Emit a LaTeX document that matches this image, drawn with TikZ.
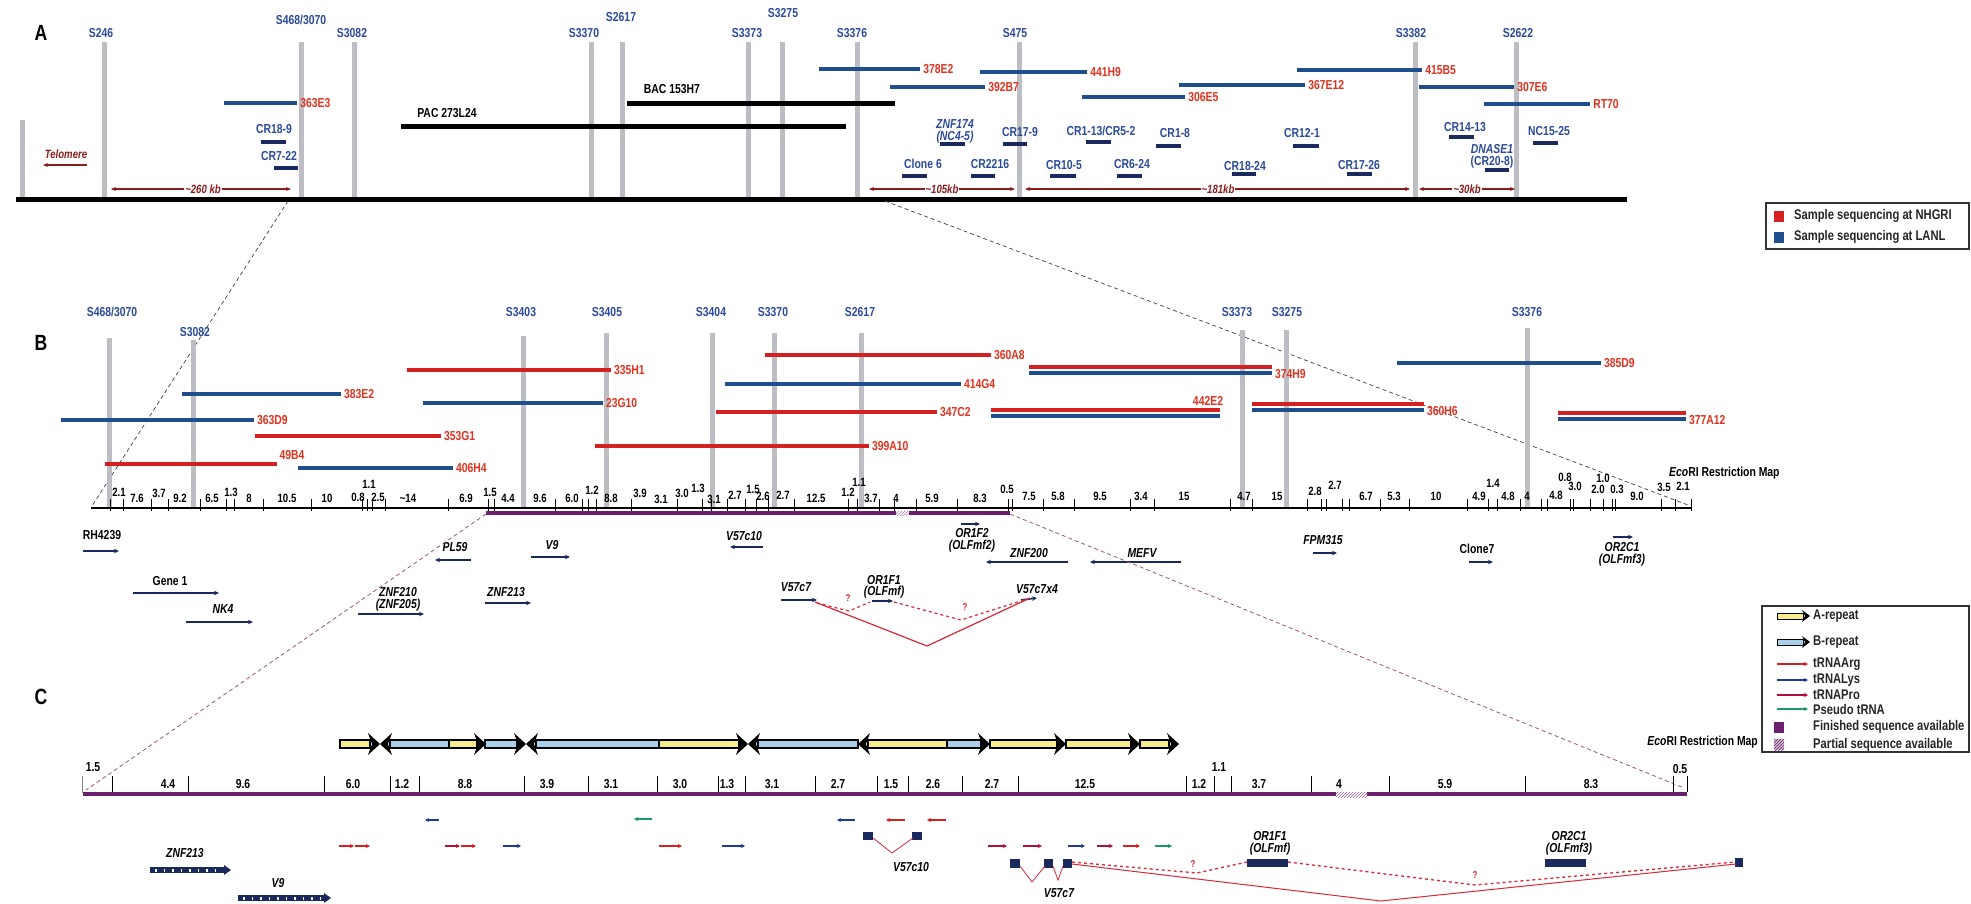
\documentclass[tikz,border=0pt]{standalone}
\usepackage{fontspec}
\setmainfont{Liberation Sans}
\newfontfamily\nar[FakeStretch=0.8]{Liberation Sans}
\usetikzlibrary{arrows.meta,patterns}
\definecolor{sblue}{HTML}{2B4A9B}
\definecolor{cred}{HTML}{E0321E}
\definecolor{bblue}{HTML}{1F4E8C}
\definecolor{bred}{HTML}{D42020}
\definecolor{navy}{HTML}{1B2A5E}
\definecolor{dred}{HTML}{8B1C1C}
\definecolor{lgray}{HTML}{BDBDC4}
\definecolor{purp}{HTML}{6B1F6E}
\definecolor{yel}{HTML}{F6EE8E}
\definecolor{lblue}{HTML}{A8D0EA}
\definecolor{trarg}{HTML}{D81E1E}
\definecolor{trlys}{HTML}{1E3A9A}
\definecolor{trpro}{HTML}{B0103A}
\definecolor{trps}{HTML}{1A9A6A}
\definecolor{vred}{HTML}{D8283A}
\definecolor{zdash}{HTML}{9A5A6A}
\newcommand\fs[1]{\nar\bfseries\fontsize{#1}{#1}\selectfont}
\newcommand\rseg[3]{\filldraw[fill=#3,draw=black,line width=1.3pt] (#1,740) rectangle (#2,748);}
\newcommand\rhead[2]{\fill[black] (#1,744) -- ++({-12*#2},-11) -- ++({4*#2},11) -- ++({-4*#2},11) -- cycle;}
\newcommand\sgene[3]{\fill[navy] (#1,#3-3) rectangle (#2,#3+3);
 \fill[navy] (#2,#3-5) -- (#2+7,#3) -- (#2,#3+5) -- cycle;
 \draw[white,line width=3pt,dash pattern=on 1.5pt off 7pt] (#1+5,#3) -- (#2-3,#3);}
\begin{document}
\begin{tikzpicture}[x=1pt,y=-1pt,
 panel/.style={font=\fs{22},inner sep=0pt},
 slab/.style={text=sblue,font=\fs{13},inner sep=0pt},
 clab/.style={text=cred,font=\fs{13},anchor=west,inner sep=1pt},
 crlab/.style={text=sblue,font=\fs{13},inner sep=0pt},
 gline/.style={lgray,line width=5pt},
 abar/.style={bblue,line width=4.5pt},
 kbar/.style={black,line width=5pt},
 crbar/.style={navy,line width=4pt},
 dist/.style={dred,line width=1.1pt,{Stealth[length=5pt,width=4pt]}-{Stealth[length=5pt,width=4pt]}},
 distlab/.style={text=dred,font=\fs{12}\itshape,fill=white,inner sep=1pt},
 rbar/.style={bred,line width=4pt},
 bbar/.style={bblue,line width=4pt},
 tick/.style={black,line width=0.8pt},
 num/.style={font=\fs{12},inner sep=0pt},
 gene/.style={font=\fs{13}\itshape,inner sep=0pt},
 plain/.style={font=\fs{13},inner sep=0pt},
 garrow/.style={navy,line width=1.6pt,-{Stealth[length=5pt,width=4.5pt]}},
 tarr/.style={line width=1.3pt,-{Stealth[length=4pt,width=4pt]}},
 zoomdash/.style={black!75,dash pattern=on 4pt off 3pt,line width=0.7pt},
 zoomdashc/.style={zdash,dash pattern=on 4pt off 3pt,line width=0.8pt},
 leg/.style={font=\fs{14},anchor=west,inner sep=0pt,text=black!85},
 q/.style={text=vred,font=\fs{10},inner sep=0pt}]
\useasboundingbox (0,0) rectangle (1971,903);
\fill[white] (0,0) rectangle (1971,903);

% ================= Panel A =================
\node[panel] (pA) at (41,33) {A};
\foreach \x in {104,301,354,591,622,748,782,857,1019,1415,1516} \draw[gline] (\x,42) -- (\x,197);
\draw[gline] (22,120) -- (22,197);
\foreach \x/\y/\t in {101/33/S246, 301/20/{S468/3070}, 352/33/S3082, 584/33/S3370, 621/17/S2617, 747/33/S3373, 783/13/S3275, 852/33/S3376, 1015/33/S475, 1411/33/S3382, 1518/33/S2622}
  \node[slab] at (\x,\y) {\t};
\draw[black,line width=5pt] (16,199) -- (1627,199);
% clone bars
\foreach \a/\b/\y/\t in {224/297/103/363E3, 819/920/69/378E2, 890/985/87/392B7, 980/1087/72/441H9, 1082/1185/97/306E5, 1179/1305/85/367E12, 1297/1422/70/415B5, 1419/1514/87/307E6, 1484/1590/104/RT70}
  \draw[abar] (\a,\y) -- (\b,\y) node[clab] {\t};
\draw[kbar] (401,126) -- (846,126);
\node[font=\fs{13},inner sep=0pt] (pac) at (447,113) {PAC 273L24};
\draw[kbar] (627,103) -- (895,103);
\node[font=\fs{13},inner sep=0pt] (bac) at (672,89) {BAC 153H7};
% CR markers
\foreach \a/\b/\y/\lx/\ly/\t in {261/286/142/274/129/CR18-9, 274/298/168/279/156/CR7-22, 1003/1027/144/1020/132/CR17-9, 1086/1111/142/1101/131/{CR1-13/CR5-2}, 1156/1181/146/1175/133/CR1-8, 1293/1319/146/1302/133/CR12-1, 902/927/176/923/164/Clone 6, 971/995/176/990/164/CR2216, 1050/1076/176/1064/165/CR10-5, 1117/1142/176/1132/164/CR6-24, 1232/1256/174/1245/166/CR18-24, 1347/1372/174/1359/165/CR17-26, 1449/1474/137/1465/127/CR14-13, 1533/1558/143/1549/131/NC15-25}
  {\draw[crbar] (\a,\y) -- (\b,\y); \node[crlab] at (\lx,\ly) {\t};}
\draw[crbar] (940,144) -- (965,144);
\node[crlab,font=\fs{13}\itshape] (znf174) at (955,124) {ZNF174};
\node[crlab,font=\fs{13}\itshape] (nc45) at (955,137) {(NC4-5)};
\draw[crbar] (1485,170) -- (1509,170);
\node[crlab,font=\fs{13}\itshape] (dnase) at (1492,149) {DNASE1};
\node[crlab] (cr208) at (1492,162) {(CR20-8)};
% telomere and distances
\node[text=dred,font=\fs{12}\itshape,inner sep=0pt] (telo) at (66,154) {Telomere};
\draw[dred,line width=1.1pt,-{Stealth[length=5pt,width=4pt]}] (87,165) -- (43,165);
\draw[dist] (111,189) -- (291,189);
\node[distlab] at (203,189) {\textasciitilde260 kb};
\draw[dist] (869,189) -- (1015,189);
\node[distlab] at (942,189) {\textasciitilde105kb};
\draw[dist] (1025,189) -- (1410,189);
\node[distlab] at (1218,189) {\textasciitilde181kb};
\draw[dist] (1419,189) -- (1515,189);
\node[distlab] at (1467,189) {\textasciitilde30kb};
% legend A
\draw[black!80,line width=1.2pt] (1766,203) rectangle (1969,249);
\fill[bred] (1774,211) rectangle (1784,222);
\fill[bblue] (1774,232) rectangle (1784,243);
\node[leg] (lg1) at (1794,216) {Sample sequencing at NHGRI};
\node[leg] (lg2) at (1794,237) {Sample sequencing at LANL};

% zoom lines A->B
\draw[zoomdash] (288,201) -- (92,506);
\draw[zoomdash] (885,201) -- (1688,505);

% ================= Panel B =================
\node[panel] (pB) at (41,343) {B};
\foreach \x/\t in {109/338, 193/340, 523/336, 606/333, 712/333, 774/333, 861/333, 1242/330, 1286/330, 1527/328}
  \draw[gline] (\x,\t) -- (\x,507);
\foreach \x/\y/\t in {112/312/{S468/3070}, 195/332/S3082, 521/312/S3403, 607/312/S3405, 711/312/S3404, 773/312/S3370, 860/312/S2617, 1237/312/S3373, 1287/312/S3275, 1527/312/S3376}
  \node[slab] at (\x,\y) {\t};
% clone bars
\foreach \a/\b/\y/\t in {407/611/370/335H1, 255/441/436/353G1, 765/991/355/360A8, 716/937/412/347C2, 595/869/446/399A10}
  \draw[rbar] (\a,\y) -- (\b,\y) node[clab] {\t};
\foreach \a/\b/\y/\t in {182/341/394/383E2, 423/603/403/23G10, 61/254/420/363D9, 298/453/468/406H4, 725/961/384/414G4, 1397/1601/363/385D9}
  \draw[bbar] (\a,\y) -- (\b,\y) node[clab] {\t};
\draw[rbar] (105,464) -- (277,464);
\node[clab,anchor=center] (l49) at (292,455) {49B4};
\foreach \a/\b/\y/\t in {1029/1272/367/374H9, 1252/1424/404/360H6, 1558/1686/413/377A12}
  {\draw[rbar] (\a,\y) -- (\b,\y); \draw[bbar] (\a,\y+5.5) -- (\b,\y+5.5) node[clab,yshift=-2pt] {\t};}
\draw[rbar] (991,410) -- (1220,410); \draw[bbar] (991,415.5) -- (1220,415.5);
\node[clab,anchor=center] (l442) at (1208,401) {442E2};
% axis
\draw[black,line width=2.2pt] (91,508) -- (1691,508);
\draw[purp,line width=4pt] (486,513) -- (1010,513);
\fill[white] (896,511) rectangle (909,515);
\fill[pattern=north east lines,pattern color=purp!60] (896,511) rectangle (909,515);
\foreach \x in {110,123,151,168,200,226,234,263,311,362,367,372,385,448,488,494,555,582,588,596,631,677,702,711,727,745,756,768,794,848,857,879,894,916,957,1008,1012,1043,1074,1130,1154,1230,1252,1307,1321,1326,1342,1349,1380,1409,1467,1488,1497,1520,1541,1547,1570,1573,1590,1603,1612,1615,1661,1675,1691}
  \draw[tick] (\x,499) -- (\x,511);
\foreach \x/\y/\t in {119/492/2.1, 137/498/7.6, 159/493/3.7, 180/498/9.2, 212/498/6.5, 231/492/1.3, 249/498/8, 287/498/10.5, 327/498/10, 369/484/1.1, 358/497/0.8, 378/497/2.5, 408/498/{\textasciitilde14}, 466/498/6.9, 490/492/1.5, 508/498/4.4, 540/498/9.6, 572/498/6.0, 592/490/1.2, 611/498/8.8, 640/493/3.9, 661/499/3.1, 682/493/3.0, 698/488/1.3, 714/499/3.1, 735/495/2.7, 753/489/1.5, 763/496/2.6, 783/495/2.7, 816/498/12.5, 848/492/1.2, 859/482/1.1, 871/498/3.7, 896/498/4, 932/498/5.9, 980/498/8.3, 1007/489/0.5, 1029/496/7.5, 1058/496/5.8, 1100/496/9.5, 1141/496/3.4, 1184/496/15, 1244/496/4.7, 1277/496/15, 1315/491/2.8, 1335/485/2.7, 1366/496/6.7, 1394/496/5.3, 1436/496/10, 1493/483/1.4, 1479/496/4.9, 1508/496/4.8, 1527/496/4, 1556/495/4.8, 1565/477/0.8, 1575/486/3.0, 1603/478/1.0, 1598/489/2.0, 1617/489/0.3, 1637/496/9.0, 1664/487/3.5, 1683/486/2.1}
  \node[num] at (\x,\y) {\t};
\node[font=\fs{13},anchor=west,inner sep=0pt] (ecoB) at (1669,473) {\textit{Eco}RI Restriction Map};
% genes
\node[plain] (rh) at (102,535) {RH4239}; \draw[garrow] (83,551) -- (119,551);
\node[plain] (g1) at (170,581) {Gene 1}; \draw[garrow] (133,593) -- (219,593);
\node[gene] (nk4) at (223,609) {NK4}; \draw[garrow] (186,622) -- (253,622);
\node[gene] (pl59) at (455,547) {PL59}; \draw[garrow] (471,560) -- (435,560);
\node[gene] (v9b) at (552,545) {V9}; \draw[garrow] (531,557) -- (570,557);
\node[gene] (znf210) at (398,592) {ZNF210}; \node[gene] (znf205) at (398,605) {(ZNF205)};
\draw[garrow] (358,614) -- (424,614);
\node[gene] (znf213b) at (506,592) {ZNF213}; \draw[garrow] (485,603) -- (531,603);
\node[gene] (v57c10b) at (744,536) {V57c10}; \draw[garrow] (763,547) -- (730,547);
\node[gene] (or1f2) at (972,533) {OR1F2}; \node[gene] (olf2) at (972,546) {(OLFmf2)};
\draw[garrow] (961,524) -- (980,524);
\node[gene] (znf200) at (1029,553) {ZNF200}; \draw[garrow] (1068,562) -- (986,562);
\node[gene] (mefv) at (1142,553) {MEFV}; \draw[garrow] (1181,562) -- (1090,562);
\node[gene] (fpm) at (1323,540) {FPM315}; \draw[garrow] (1313,553) -- (1337,553);
\node[plain] (cl7) at (1477,549) {Clone7}; \draw[garrow] (1469,562) -- (1493,562);
\node[gene] (or2c1b) at (1622,547) {OR2C1}; \node[gene] (olf3b) at (1622,560) {(OLFmf3)};
\draw[garrow] (1613,537) -- (1633,537);
\node[gene] (v57c7b) at (796,587) {V57c7}; \draw[garrow] (781,600) -- (817,600);
\node[gene] (or1f1b) at (884,580) {OR1F1}; \node[gene] (olfb) at (884,592) {(OLFmf)};
\draw[garrow] (872,601) -- (893,601);
\node[gene] (v57x4) at (1037,589) {V57c7x4}; \draw[garrow] (1021,600) -- (1037,598);
\draw[vred,line width=1.2pt] (815,602) -- (927,646) -- (1030,598);
\draw[vred,line width=1.2pt,dashed] (817,603) -- (849,611) -- (870,602);
\draw[vred,line width=1.2pt,dashed] (894,602) -- (961,620) -- (1024,600);
\node[q] at (848,598) {?}; \node[q] at (965,607) {?};
% legend C
\draw[black!80,line width=1.2pt] (1762,606) rectangle (1969,752);
\filldraw[fill=yel,draw=black,line width=0.8pt] (1777,613) rectangle (1803,619);
\fill[black] (1810,616) -- (1802,610) -- (1805,616) -- (1802,622) -- cycle;
\node[leg] (la) at (1813,616) {A-repeat};
\filldraw[fill=lblue,draw=black,line width=0.8pt] (1777,639) rectangle (1803,645);
\fill[black] (1810,642) -- (1802,636) -- (1805,642) -- (1802,648) -- cycle;
\node[leg] (lb) at (1813,642) {B-repeat};
\draw[trarg,tarr] (1777,664) -- (1808,664); \node[leg] (l3) at (1813,664) {tRNAArg};
\draw[trlys,tarr] (1777,680) -- (1808,680); \node[leg] (l4) at (1813,680) {tRNALys};
\draw[trpro,tarr] (1777,695) -- (1808,695); \node[leg] (l5) at (1813,695) {tRNAPro};
\draw[trps,tarr] (1777,709) -- (1808,709); \node[leg] (l6) at (1813,709) {Pseudo tRNA};
\fill[purp] (1774,722) rectangle (1784,733); \node[leg] (l7) at (1813,727) {Finished sequence available};
\fill[purp!30] (1774,739) rectangle (1784,750);
\fill[pattern=north east lines,pattern color=purp] (1774,739) rectangle (1784,750);
\node[leg] (l8) at (1813,745) {Partial sequence available};

% zoom lines B->C
\draw[zoomdashc] (486,514) -- (86,790);
\draw[zoomdashc] (1010,514) -- (1684,788);

% ================= Panel C =================
\node[panel] (pC) at (41,697) {C};
% repeats
\rseg{340}{370}{yel}
\rseg{390}{449}{lblue}\rseg{449}{477}{yel}
\rseg{485}{517}{lblue}
\rseg{536}{659}{lblue}\rseg{659}{739}{yel}
\rseg{758}{858}{lblue}
\rseg{868}{947}{yel}\rseg{947}{981}{lblue}
\rseg{990}{1057}{yel}
\rseg{1066}{1131}{yel}
\rseg{1140}{1169}{yel}
\rhead{380}{1}\rhead{380}{-1}
\rhead{486}{1}
\rhead{526}{1}\rhead{526}{-1}
\rhead{748}{1}\rhead{748}{-1}
\rhead{858}{-1}
\rhead{990}{1}\rhead{1066}{1}\rhead{1140}{1}\rhead{1179}{1}
% axis
\draw[purp,line width=4pt] (83,794) -- (1687,794);
\fill[white] (1336,791) rectangle (1367,797);
\fill[pattern=north east lines,pattern color=purp!70] (1336,792) rectangle (1367,797);
\draw[gray,line width=0.8pt] (82,776) -- (82,793);
\foreach \x in {112,188,324,390,419,524,588,657,718,745,815,877,908,962,1018,1186,1214,1231,1311,1389,1525,1673,1687}
  \draw[tick] (\x,776) -- (\x,792);
\foreach \x/\t in {168/4.4, 243/9.6, 353/6.0, 402/1.2, 465/8.8, 547/3.9, 611/3.1, 680/3.0, 727/1.3, 772/3.1, 838/2.7, 891/1.5, 933/2.6, 992/2.7, 1085/12.5, 1199/1.2, 1259/3.7, 1339/4, 1445/5.9, 1591/8.3}
  \node[num,font=\fs{13}] at (\x,784) {\t};
\node[num,font=\fs{13}] (c15) at (93,767) {1.5};
\node[num,font=\fs{13}] (c11) at (1219,767) {1.1};
\node[num,font=\fs{13}] (c05) at (1680,769) {0.5};
\node[font=\fs{13},anchor=east,inner sep=0pt] (ecoC) at (1758,742) {\textit{Eco}RI Restriction Map};
% tRNA arrows
\draw[trlys,tarr] (439,820) -- (425,820);
\draw[trps,tarr] (652,819) -- (634,819);
\draw[trlys,tarr] (855,820) -- (837,820);
\draw[trarg,tarr] (905,820) -- (886,820);
\draw[trarg,tarr] (946,820) -- (927,820);
\foreach \a/\b/\c in {339/354/trarg, 355/370/trarg, 445/460/trpro, 461/476/trarg, 503/521/trlys, 659/682/trarg, 722/745/trlys, 988/1007/trpro, 1023/1042/trpro, 1068/1085/trlys, 1097/1113/trpro, 1123/1140/trarg, 1155/1172/trps}
  \draw[\c,tarr] (\a,846) -- (\b,846);
% V57c10
\fill[navy] (863,832) rectangle (873,840);
\fill[navy] (912,832) rectangle (922,840);
\draw[vred,line width=0.8pt] (873,838) -- (892,853) -- (913,838);
\node[gene] (v57c10c) at (911,867) {V57c10};
% V57c7
\fill[navy] (1010,859) rectangle (1020,868);
\fill[navy] (1044,859) rectangle (1053,868);
\fill[navy] (1063,859) rectangle (1072,868);
\draw[vred,line width=0.8pt] (1020,866) -- (1032,882) -- (1045,866);
\draw[vred,line width=0.8pt] (1053,866) -- (1058,880) -- (1063,866);
\node[gene] (v57c7c) at (1059,893) {V57c7};
% OR genes
\fill[navy] (1247,859) rectangle (1288,867);
\node[gene] (or1f1c) at (1270,836) {OR1F1}; \node[gene] (olfc) at (1270,849) {(OLFmf)};
\fill[navy] (1545,859) rectangle (1586,867);
\node[gene] (or2c1c) at (1569,836) {OR2C1}; \node[gene] (olf3c) at (1569,849) {(OLFmf3)};
\fill[navy] (1735,858) rectangle (1743,867);
\draw[vred,line width=1.3pt,dashed] (1072,862) -- (1197,873) -- (1247,862);
\draw[vred,line width=1.3pt,dashed] (1288,862) -- (1475,885) -- (1735,862);
\node[q] at (1193,864) {?}; \node[q] at (1475,875) {?};
\draw[vred,line width=1pt] (1072,864) -- (1381,901) -- (1736,864);
% ZNF213 / V9
\node[gene] (znf213c) at (185,853) {ZNF213};
\sgene{150}{224}{870}
\node[gene] (v9c) at (278,883) {V9};
\sgene{238}{324}{898}
\end{tikzpicture}
\end{document}
